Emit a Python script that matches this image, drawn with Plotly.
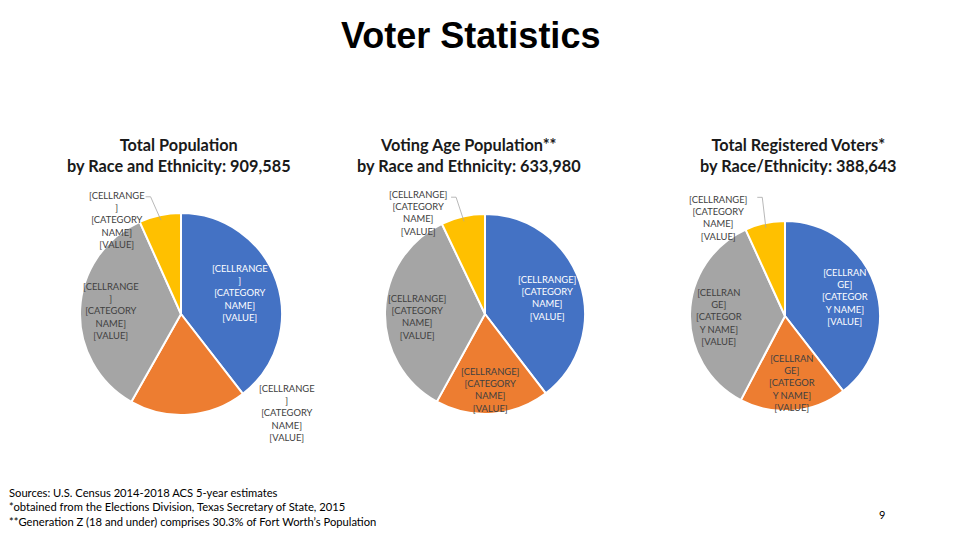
import math
import plotly.graph_objects as go

# ---------------- data ----------------
categories = ["White", "Black", "Hispanic", "Other"]
total_population = [39.5, 18.7, 35.1, 6.7]
voting_age_population = [39.6, 18.4, 34.9, 7.1]
registered_voters = [39.5, 18.2, 35.5, 6.8]
series = [total_population, voting_age_population, registered_voters]

chart_titles = [
    "Total Population<br>by Race and Ethnicity: 909,585",
    "Voting Age Population**<br>by Race and Ethnicity: 633,980",
    "Total Registered Voters*<br>by Race/Ethnicity: 388,643",
]

label_texts = [
    ["[CELLRANGE<br>]<br>[CATEGORY<br>NAME]<br>[VALUE]",
     "[CELLRANGE<br>]<br>[CATEGORY<br>NAME]<br>[VALUE]",
     "[CELLRANGE<br>]<br>[CATEGORY<br>NAME]<br>[VALUE]",
     "[CELLRANGE<br>]<br>[CATEGORY<br>NAME]<br>[VALUE]"],
    ["[CELLRANGE]<br>[CATEGORY<br>NAME]<br>[VALUE]",
     "[CELLRANGE]<br>[CATEGORY<br>NAME]<br>[VALUE]",
     "[CELLRANGE]<br>[CATEGORY<br>NAME]<br>[VALUE]",
     "[CELLRANGE]<br>[CATEGORY<br>NAME]<br>[VALUE]"],
    ["[CELLRAN<br>GE]<br>[CATEGOR<br>Y NAME]<br>[VALUE]",
     "[CELLRAN<br>GE]<br>[CATEGOR<br>Y NAME]<br>[VALUE]",
     "[CELLRAN<br>GE]<br>[CATEGOR<br>Y NAME]<br>[VALUE]",
     "[CELLRANGE]<br>[CATEGORY<br>NAME]<br>[VALUE]"],
]

main_title = "Voter Statistics"
footer_lines = [
    "Sources: U.S. Census 2014-2018 ACS 5-year estimates",
    "*obtained from the Elections Division, Texas Secretary of State, 2015",
    "**Generation Z (18 and under) comprises 30.3% of Fort Worth\u2019s Population",
]
page_number = "9"

# ---------------- style ----------------
W, H = 960, 540
colors = ["#4472C4", "#ED7D31", "#A5A5A5", "#FFC000"]
pie_geom = [dict(cx=181, cy=314, r=101), dict(cx=485, cy=314, r=100), dict(cx=785, cy=316, r=95)]
subtitle_x = [179, 469, 798]
# label placement per slice: (angle offset from bisector in degrees, radius fraction)
label_place = [
    [(-1, 0.62), (-42.8, 1.44), (-0.5, 0.69), (-22.3, 1.13)],
    [(4.4, 0.64), (0, 0.76), (-4, 0.68), (-20.8, 1.21)],
    [(1, 0.66), (-0.8, 0.71), (-2.8, 0.70), (-22.1, 1.245)],
]
label_colors = ["#FFFFFF", "#404040", "#404040", "#404040"]
# leader-line start offsets (px) relative to the yellow label centre
leader_start = [(29, -23), (33, -16), (39, -21)]
LABEL_FONT = "Lato"
TEXT_FONT = "Lato"


def px(x, y):
    return x / W, 1 - y / H


fig = go.Figure()
annotations = []
shapes = []

for k, vals in enumerate(series):
    g = pie_geom[k]
    cx, cy, r = g["cx"], g["cy"], g["r"]
    fig.add_trace(go.Pie(
        labels=categories, values=vals, sort=False, direction="clockwise", rotation=0,
        marker=dict(colors=colors, line=dict(color="white", width=2)),
        textinfo="none", hoverinfo="label+percent", showlegend=False,
        domain=dict(x=[(cx - r) / W, (cx + r) / W], y=[1 - (cy + r) / H, 1 - (cy - r) / H]),
    ))
    total = sum(vals)
    start = 0.0
    for i, v in enumerate(vals):
        span = v / total * 360
        mid = start + span / 2
        off, frac = label_place[k][i]
        ang = math.radians(mid + off)
        lx = cx + frac * r * math.sin(ang)
        ly = cy - frac * r * math.cos(ang)
        xp, yp = px(lx, ly)
        annotations.append(dict(
            x=xp, y=yp, xref="paper", yref="paper", text=label_texts[k][i], showarrow=False,
            xanchor="center", yanchor="middle", align="center",
            font=dict(family=LABEL_FONT, size=9.4, color=label_colors[i]),
        ))
        if i == 3:
            # leader line from label to slice
            sx, sy = lx + leader_start[k][0], ly + leader_start[k][1]
            mr = math.radians(mid)
            ex = cx + 0.95 * r * math.sin(mr)
            ey = cy - 0.95 * r * math.cos(mr)
            p0 = px(sx, sy)
            p1 = px(sx + 5, sy)
            p2 = px(ex, ey)
            shapes.append(dict(
                type="path", xref="paper", yref="paper",
                path=f"M {p0[0]},{p0[1]} L {p1[0]},{p1[1]} L {p2[0]},{p2[1]}",
                line=dict(color="#A6A6A6", width=0.8),
            ))
        start += span

    sx, sy = px(subtitle_x[k], 155)
    annotations.append(dict(
        x=sx, y=sy, xref="paper", yref="paper", text=chart_titles[k], showarrow=False,
        xanchor="center", yanchor="middle", align="center",
        font=dict(family=TEXT_FONT, size=16.3, color="#1a1a1a", weight="bold"),
    ))

tx, ty = px(470, 36)
annotations.append(dict(
    x=tx, y=ty, xref="paper", yref="paper", text=f"<b>{main_title}</b>", showarrow=False,
    xanchor="center", yanchor="middle",
    font=dict(family="Liberation Sans, Arial", size=36, color="#000000"),
))

for j, line in enumerate(footer_lines):
    fx, fy = px(7, 492 + j * 14.5)
    annotations.append(dict(
        x=fx, y=fy, xref="paper", yref="paper", text=line, showarrow=False,
        xanchor="left", yanchor="middle", align="left",
        font=dict(family=TEXT_FONT, size=11.2, color="#000000"),
    ))

nx, ny = px(882, 514)
annotations.append(dict(
    x=nx, y=ny, xref="paper", yref="paper", text=page_number, showarrow=False,
    xanchor="center", yanchor="middle",
    font=dict(family=TEXT_FONT, size=11, color="#000000"),
))

fig.update_layout(
    width=W, height=H, margin=dict(l=0, r=0, t=0, b=0),
    paper_bgcolor="white", plot_bgcolor="white",
    annotations=annotations, shapes=shapes,
)

fig.write_html("out.html", config={"displayModeBar": False})
